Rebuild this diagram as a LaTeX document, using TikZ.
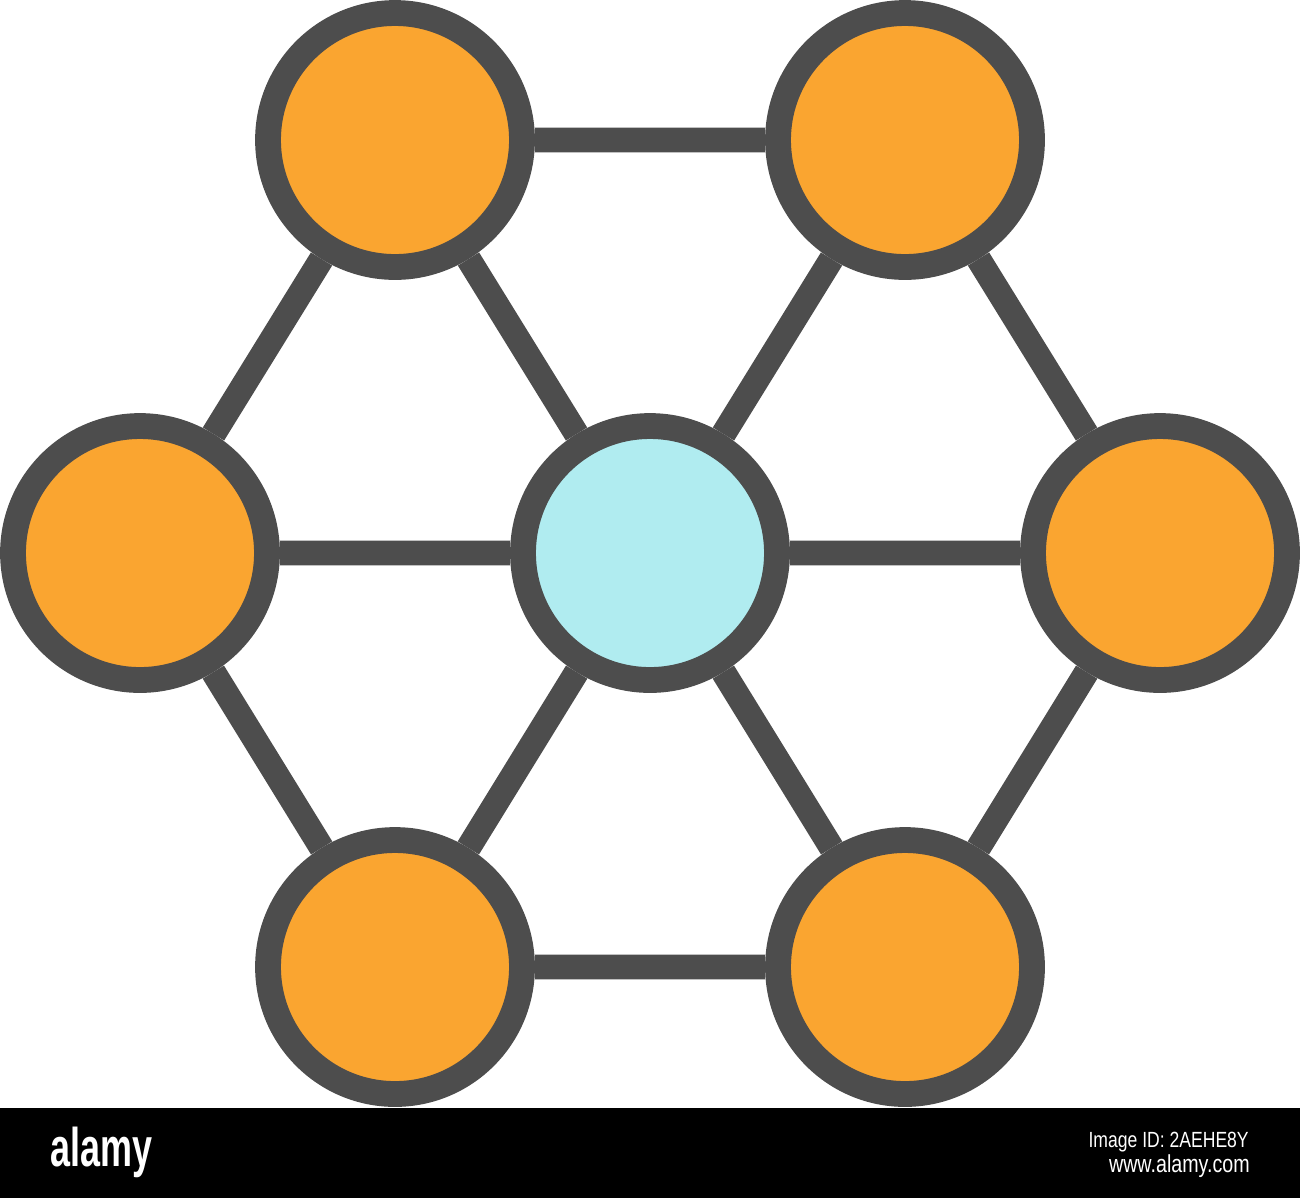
\documentclass[tikz,border=0pt]{standalone}
\usepackage{fontspec}
\setmainfont{Liberation Sans}
\definecolor{ink}{HTML}{4D4D4D}
\definecolor{amber}{HTML}{FAA530}
\definecolor{aqua}{HTML}{B0ECF0}
\tikzset{
  ball/.style={circle, draw=ink, line width=14.7pt, minimum size=5.08cm, inner sep=0pt, fill=amber},
  hub/.style={ball, fill=aqua},
  link/.style={draw=ink, line width=14.2pt},
}
\begin{document}
\begin{tikzpicture}[x=0.02cm, y=-0.02cm]
\useasboundingbox (0,0) rectangle (1300,1198);
\fill[white] (0,0) rectangle (1300,1198);
\fill[black] (0,1108) rectangle (1300,1198);
\node[ball] (tl) at (395,140) {};
\node[ball] (tr) at (905,140) {};
\node[ball] (l)  at (140,553) {};
\node[hub]  (c)  at (650,553) {};
\node[ball] (r)  at (1160,553) {};
\node[ball] (bl) at (395,967) {};
\node[ball] (br) at (905,967) {};
\path[link] (tl) -- (tr) (tl) -- (l) (tl) -- (c) (tr) -- (c) (tr) -- (r)
  (l) -- (c) (c) -- (r) (l) -- (bl) (c) -- (bl) (c) -- (br) (r) -- (br) (bl) -- (br);
\node[text=white, font=\bfseries\fontsize{31}{31}\selectfont, xscale=0.66, anchor=base west, inner sep=0pt] (logo) at (50,1166) {alamy};
\node[text=white, font=\fontsize{12.5}{12.5}\selectfont, xscale=0.8, anchor=base east, inner sep=0pt] (imgid) at (1249,1147) {Image ID: 2AEHE8Y};
\node[text=white, font=\fontsize{14}{14}\selectfont, xscale=0.8, anchor=base east, inner sep=0pt] (www) at (1250,1172) {www.alamy.com};
\end{tikzpicture}
\end{document}
